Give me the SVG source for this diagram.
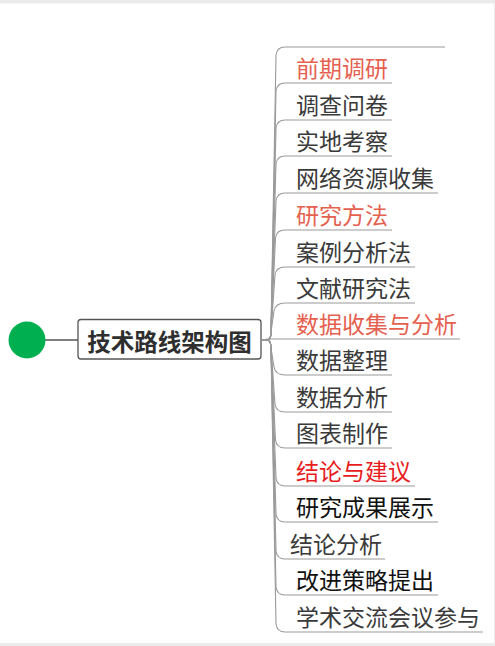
<svg xmlns="http://www.w3.org/2000/svg" width="495" height="646" viewBox="0 0 495 646">
<style>
.t{font-family:"Noto Sans CJK SC","Microsoft YaHei",sans-serif;font-size:23px;fill:#3a3a3a}
.hl{fill:#e5614f}
.red{fill:#e81c1c}
.blk{fill:#111111}
.c{fill:none;stroke:#9a9a9a;stroke-width:1.1}
.root{font-family:"Noto Sans CJK SC","Microsoft YaHei",sans-serif;font-size:23.5px;font-weight:bold;fill:#2e2e2e}
</style>
<rect x="0" y="0" width="495" height="646" fill="#ffffff"/>
<rect x="0" y="0" width="495" height="3.5" fill="#ebebeb"/>
<rect x="494" y="0" width="1" height="646" fill="#ebebeb"/>
<rect x="0" y="643" width="495" height="3" fill="#ebebeb"/>
<g id="connectors">
<line x1="45" y1="340" x2="78" y2="340" stroke="#555" stroke-width="1.5"/>
<path class="c" d="M262,340 L267,340 Q271,340 271,332 L276,55 Q277,47 285,47 L445,47"/>
<path class="c" d="M262,340 L267,340 Q271,340 271,332 L276,91 Q277,83 285,83 L392,83"/>
<path class="c" d="M262,340 L267,340 Q271,340 271,332 L276,128 Q277,120 285,120 L392,120"/>
<path class="c" d="M262,340 L267,340 Q271,340 271,332 L276,164 Q277,156 285,156 L392,156"/>
<path class="c" d="M262,340 L267,340 Q271,340 271,332 L276,201 Q277,193 285,193 L438,193"/>
<path class="c" d="M262,340 L267,340 Q271,340 271,332 L275.5,238 Q276.5,230 285,230 L392,230"/>
<path class="c" d="M262,340 L267,340 Q271,340 271,332 L275,275 Q276,267 285,267 L415,267"/>
<path class="c" d="M262,340 L267,340 Q271,340 271,332 L274,311 Q275.5,303 285,303 L415,303"/>
<path class="c" d="M262,340 L267,339 L460,339"/>
<path class="c" d="M262,340 L267,340 Q271,340 271,348 L274,367 Q275.5,375 285,375 L392,375"/>
<path class="c" d="M262,340 L267,340 Q271,340 271,348 L275,404 Q276,412 285,412 L392,412"/>
<path class="c" d="M262,340 L267,340 Q271,340 271,348 L275.5,440 Q276.5,448 285,448 L392,448"/>
<path class="c" d="M262,340 L267,340 Q271,340 271,348 L276,478 Q277,486 285,486 L415,486"/>
<path class="c" d="M262,340 L267,340 Q271,340 271,348 L276,514 Q277,522 285,522 L438,522"/>
<path class="c" d="M262,340 L267,340 Q271,340 271,348 L276,551 Q277,559 285,559 L385,559"/>
<path class="c" d="M262,340 L267,340 Q271,340 271,348 L276,587 Q277,595 285,595 L438,595"/>
<path class="c" d="M262,340 L267,340 Q271,340 271,348 L276,624 Q277,632 285,632 L483,632"/>
</g>
<g id="start"><circle cx="27" cy="340" r="18.5" fill="#00b050"/></g>
<g id="root">
<rect x="78" y="319.5" width="183" height="39.5" rx="3" fill="#fff" stroke="#555" stroke-width="1.3"/>
<text class="root" x="169.5" y="350.5" text-anchor="middle">技术路线架构图</text>
</g>
<g id="n1"><text class="t hl" x="296" y="76.5">前期调研</text></g>
<g id="n2"><text class="t" x="296" y="113.5">调查问卷</text></g>
<g id="n3"><text class="t" x="296" y="149.5">实地考察</text></g>
<g id="n4"><text class="t" x="296" y="186.5">网络资源收集</text></g>
<g id="n5"><text class="t hl" x="296" y="223.5">研究方法</text></g>
<g id="n6"><text class="t" x="296" y="260.5">案例分析法</text></g>
<g id="n7"><text class="t" x="296" y="296.5">文献研究法</text></g>
<g id="n8"><text class="t hl" x="296" y="332.5">数据收集与分析</text></g>
<g id="n9"><text class="t" x="296" y="368.5">数据整理</text></g>
<g id="n10"><text class="t" x="296" y="405.5">数据分析</text></g>
<g id="n11"><text class="t" x="296" y="441.5">图表制作</text></g>
<g id="n12"><text class="t red" x="296" y="479.5">结论与建议</text></g>
<g id="n13"><text class="t blk" x="296" y="515.5">研究成果展示</text></g>
<g id="n14"><text class="t" x="290" y="552.5">结论分析</text></g>
<g id="n15"><text class="t blk" x="296" y="588.5">改进策略提出</text></g>
<g id="n16"><text class="t" x="296" y="625.5">学术交流会议参与</text></g>
</svg>
